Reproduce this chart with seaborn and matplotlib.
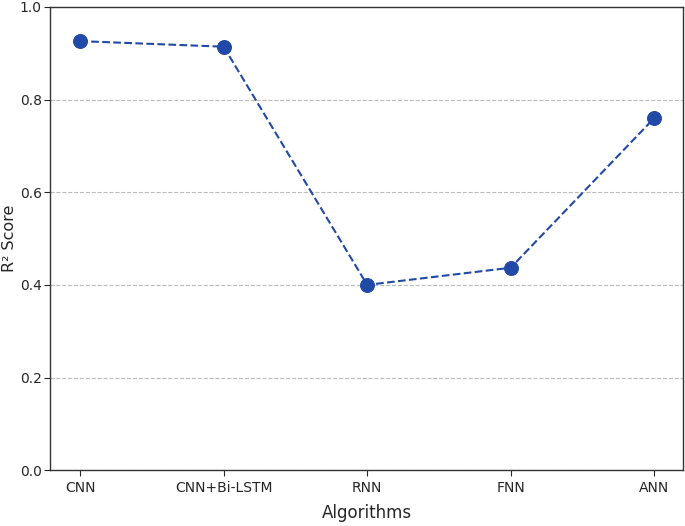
import matplotlib
matplotlib.use("Agg")
import matplotlib.pyplot as plt
import pandas as pd
import seaborn as sns

# Dados
algoritmos = ["CNN", "CNN+Bi-LSTM", "RNN", "FNN", "ANN"]
r2_scores = [0.926, 0.914, 0.400, 0.437, 0.760]

COR = "#2149a6"

sns.set_style("white")
plt.rcParams["font.family"] = ["DejaVu Sans"]

df = pd.DataFrame({"Algorithms": algoritmos, "R2": r2_scores})

fig, ax = plt.subplots(figsize=(6.85, 5.26), dpi=100)
sns.lineplot(
    data=df,
    x="Algorithms",
    y="R2",
    marker="o",
    markersize=10,
    linestyle="--",
    linewidth=1.5,
    color=COR,
    markeredgecolor=COR,
    sort=False,
    ax=ax,
)

ax.set_ylim(0, 1.0)
ax.set_xlim(-0.21, 4.2)
ax.set_yticks([0.0, 0.2, 0.4, 0.6, 0.8, 1.0])
ax.set_xlabel("Algorithms", fontsize=12, labelpad=6)
ax.set_ylabel("R² Score", fontsize=11.5, labelpad=2)
ax.tick_params(axis="y", labelsize=10, length=4, pad=2, direction="out", left=True)
ax.tick_params(axis="x", labelsize=10, length=4, pad=4, direction="out", bottom=True)
ax.grid(axis="y", linestyle="--", color="#bbbbbb", linewidth=0.8)
ax.set_axisbelow(True)
for spine in ax.spines.values():
    spine.set_color("#333333")
    spine.set_linewidth(1.0)

fig.subplots_adjust(left=0.073, right=0.997, top=0.987, bottom=0.106)
fig.savefig("out.png", dpi=100)
plt.close(fig)
